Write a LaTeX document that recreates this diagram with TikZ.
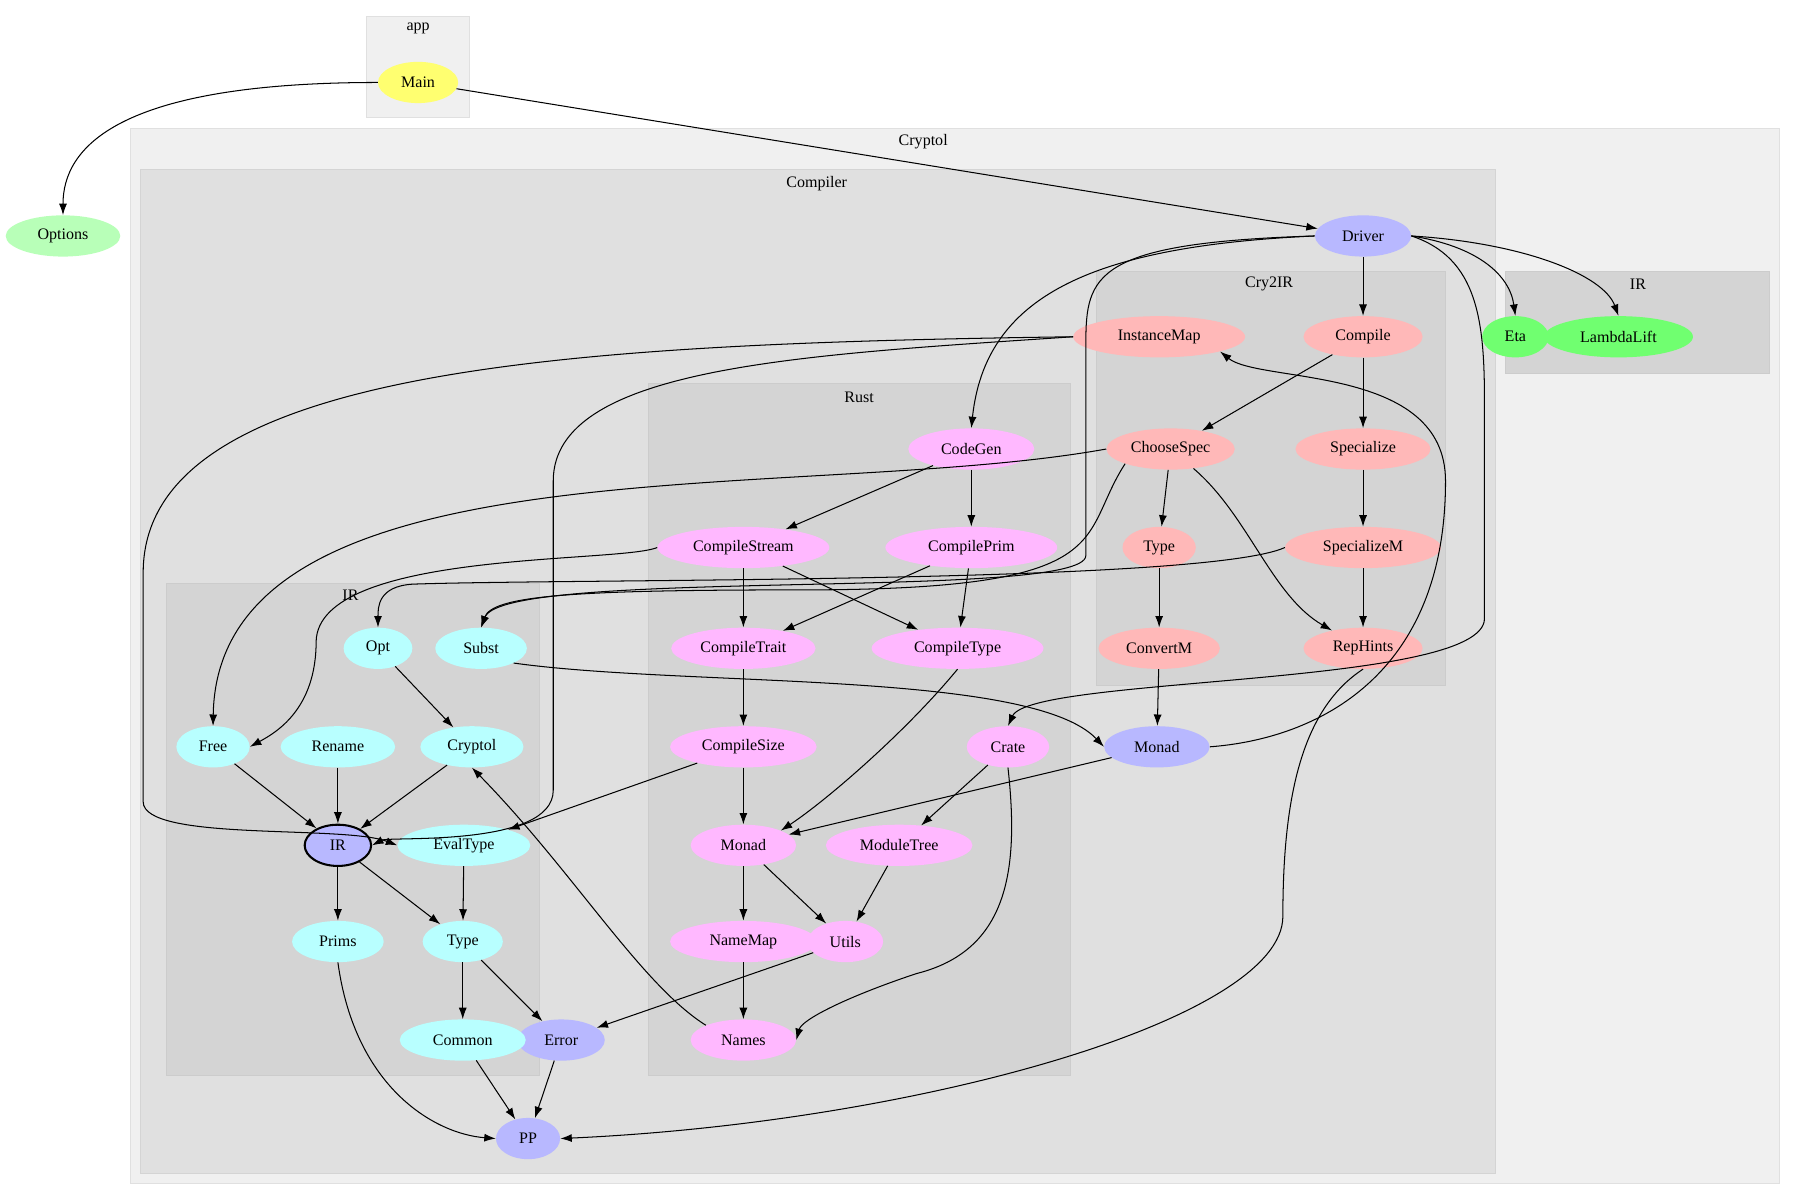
\documentclass[tikz,border=0pt]{standalone}
\usepackage{fontspec}
\setmainfont{Liberation Serif}
\usetikzlibrary{shapes.geometric,arrows.meta}
\begin{document}
\begin{tikzpicture}[x=1pt,y=-1pt,
 n/.style 2 args={ellipse,fill=#1,minimum width=#2,minimum height=36,inner sep=0pt,font=\fontsize{14}{16}\selectfont},
 e/.style={draw=black,line width=0.9pt,-{Latex[length=10pt,width=7pt]}},
 cl/.style={draw=#1!85!gray},
 lab/.style={font=\fontsize{14}{16}\selectfont}]
\useasboundingbox (0,0) rectangle (1568,1047);
\definecolor{cA}{HTML}{F0F0F0}\definecolor{cB}{HTML}{E0E0E0}\definecolor{cC}{HTML}{D4D4D4}
\definecolor{pk}{HTML}{FFB8B8}\definecolor{mg}{HTML}{FFB8FF}\definecolor{cy}{HTML}{B8FFFF}
\definecolor{lv}{HTML}{B8B8FF}\definecolor{gr}{HTML}{70FF70}\definecolor{lg}{HTML}{B8FFB8}\definecolor{ye}{HTML}{FFFF70}
% clusters
\filldraw[fill=cA,draw=cB] (320,14) rectangle (410,102);
\filldraw[fill=cA,draw=cB] (114,112) rectangle (1553,1033);
\filldraw[fill=cB,draw=cC] (122,148) rectangle (1305,1024);
\filldraw[fill=cC,draw=cC!90!gray] (957,237) rectangle (1262,598);
\filldraw[fill=cC,draw=cC!90!gray] (566,335) rectangle (934,939);
\filldraw[fill=cC,draw=cC!90!gray] (145,509) rectangle (471,939);
\filldraw[fill=cC,draw=cC!90!gray] (1314,237) rectangle (1545,326);
\node[lab] (l1) at (365,25) {app};
\node[lab] (l2) at (806,124) {Cryptol};
\node[lab] (l3) at (713,160) {Compiler};
\node[lab] (l4) at (1108,248) {Cry2IR};
\node[lab] (l5) at (750,347) {Rust};
\node[lab] (l6) at (306,520) {IR};
\node[lab] (l7) at (1430,248) {IR};
% nodes
\node[n={ye}{70}] (Main) at (365,72) {Main};
\node[n={lg}{100}] (Options) at (55,206) {Options};
\node[n={lv}{84}] (Driver) at (1190,206) {Driver};
\node[n={gr}{58}] (Eta) at (1323,294) {Eta};
\node[n={gr}{130}] (LambdaLift) at (1413,294) {LambdaLift};
\node[n={pk}{150}] (InstanceMap) at (1012,294) {InstanceMap};
\node[n={pk}{104}] (Compile) at (1190,294) {Compile};
\node[n={pk}{112}] (ChooseSpec) at (1022,392) {ChooseSpec};
\node[n={pk}{118}] (Specialize) at (1190,392) {Specialize};
\node[n={pk}{64}] (TypeC) at (1012,478) {Type};
\node[n={pk}{136}] (SpecializeM) at (1190,478) {SpecializeM};
\node[n={pk}{106}] (ConvertM) at (1012,566) {ConvertM};
\node[n={pk}{104}] (RepHints) at (1190,566) {RepHints};
\node[n={mg}{110}] (CodeGen) at (848,392) {CodeGen};
\node[n={mg}{150}] (CompileStream) at (649,478) {CompileStream};
\node[n={mg}{150}] (CompilePrim) at (848,478) {CompilePrim};
\node[n={mg}{126}] (CompileTrait) at (649,566) {CompileTrait};
\node[n={mg}{150}] (CompileType) at (836,566) {CompileType};
\node[n={mg}{128}] (CompileSize) at (649,652) {CompileSize};
\node[n={mg}{72}] (Crate) at (880,652) {Crate};
\node[n={mg}{92}] (MonadR) at (649,738) {Monad};
\node[n={mg}{128}] (ModuleTree) at (785,738) {ModuleTree};
\node[n={mg}{128}] (NameMap) at (649,822) {NameMap};
\node[n={mg}{66}] (Utils) at (738,822) {Utils};
\node[n={mg}{92}] (Names) at (649,908) {Names};
\node[n={lv}{92}] (MonadC) at (1010,652) {Monad};
\node[n={lv}{76}] (Error) at (490,908) {Error};
\node[n={lv}{56}] (PP) at (461,994) {PP};
\node[n={cy}{60}] (Opt) at (330,566) {Opt};
\node[n={cy}{80}] (Subst) at (420,566) {Subst};
\node[n={cy}{64}] (Free) at (186,652) {Free};
\node[n={cy}{100}] (Rename) at (295,652) {Rename};
\node[n={cy}{90}] (Cryptol) at (412,652) {Cryptol};
\node[n={lv}{58},draw=black,line width=1.8pt] (IR) at (295,738) {IR};
\node[n={cy}{116}] (EvalType) at (405,738) {EvalType};
\node[n={cy}{80}] (Prims) at (295,822) {Prims};
\node[n={cy}{70}] (Type) at (404,822) {Type};
\node[n={cy}{110}] (Common) at (404,908) {Common};
% edges
\draw[e] (Main.west) .. controls (100,72) and (55,130) .. (Options.north);
\draw[e] (Main) -- (Driver);
\draw[e] (Driver) -- (Compile);
\draw[e] (Driver.east) .. controls (1290,215) and (1318,240) .. (Eta.north);
\draw[e] (Driver.east) .. controls (1330,212) and (1400,240) .. (LambdaLift.north);
\draw[e] (Driver.west) .. controls (950,215) and (860,260) .. (CodeGen.north);
\draw[e] (Driver.west) .. controls (955,212) and (948,240) .. (948,300) -- (948,485) .. controls (948,525) and (440,495) .. (Subst.north);
\draw[e] (Driver.east) .. controls (1290,225) and (1296,280) .. (1296,350) -- (1296,540) .. controls (1296,600) and (900,590) .. (Crate.north);
\draw[e] (MonadC.east) .. controls (1150,645) and (1262,590) .. (1262,420) .. controls (1262,318) and (1100,335) .. (InstanceMap.south east);
\draw[e] (InstanceMap.west) .. controls (500,300) and (125,320) .. (125,500) -- (125,700) .. controls (125,735) and (300,720) .. (EvalType.west);
\draw[e] (InstanceMap.west) .. controls (700,310) and (483,320) .. (483,420) -- (483,690) .. controls (483,740) and (340,730) .. (IR.east);
\draw[e] (Compile) -- (ChooseSpec);
\draw[e] (Compile) -- (Specialize);
\draw[e] (Specialize) -- (SpecializeM);
\draw[e] (ChooseSpec) -- (TypeC);
\draw[e] (ChooseSpec) .. controls (1090,450) and (1110,520) .. (RepHints);
\draw[e] (ChooseSpec.west) .. controls (700,440) and (190,380) .. (Free.north);
\draw[e] (ChooseSpec.south west) .. controls (940,470) and (980,515) .. (700,515) .. controls (500,515) and (430,520) .. (Subst.north);
\draw[e] (SpecializeM.west) .. controls (1050,510) and (500,505) .. (360,510) .. controls (330,512) and (330,530) .. (Opt.north);
\draw[e] (TypeC) -- (ConvertM);
\draw[e] (SpecializeM) -- (RepHints);
\draw[e] (ConvertM) -- (MonadC);
\draw[e] (RepHints.south) .. controls (1135,620) and (1120,700) .. (1120,800) .. controls (1120,890) and (800,980) .. (PP.east);
\draw[e] (CodeGen) -- (CompileStream);
\draw[e] (CodeGen) -- (CompilePrim);
\draw[e] (CompileStream) -- (CompileTrait);
\draw[e] (CompileStream) -- (CompileType);
\draw[e] (CompileStream.west) .. controls (540,492) and (278,480) .. (276,560) .. controls (276,620) and (240,640) .. (Free.east);
\draw[e] (CompilePrim) -- (CompileTrait);
\draw[e] (CompilePrim) -- (CompileType);
\draw[e] (CompileTrait) -- (CompileSize);
\draw[e] (CompileType.south) .. controls (790,640) and (720,700) .. (MonadR.north east);
\draw[e] (CompileSize) -- (MonadR);
\draw[e] (CompileSize) -- (EvalType);
\draw[e] (Crate) -- (ModuleTree);
\draw[e] (Crate.south) .. controls (890,760) and (880,830) .. (800,850) .. controls (740,870) and (700,890) .. (Names.east);
\draw[e] (MonadR) -- (NameMap);
\draw[e] (MonadR) -- (Utils);
\draw[e] (ModuleTree) -- (Utils);
\draw[e] (NameMap) -- (Names);
\draw[e] (Utils) -- (Error);
\draw[e] (Names.north west) .. controls (560,860) and (500,760) .. (Cryptol.south);
\draw[e] (Subst.south east) .. controls (600,600) and (900,585) .. (MonadC.west);
\draw[e] (MonadC) -- (MonadR);
\draw[e] (Opt) -- (Cryptol);
\draw[e] (Free) -- (IR);
\draw[e] (Rename) -- (IR);
\draw[e] (Cryptol) -- (IR);
\draw[e] (IR) -- (Prims);
\draw[e] (IR) -- (Type);
\draw[e] (EvalType) -- (Type);
\draw[e] (Type) -- (Common);
\draw[e] (Type) -- (Error);
\draw[e] (Prims.south) .. controls (310,950) and (380,990) .. (PP.west);
\draw[e] (Common) -- (PP);
\draw[e] (Error) -- (PP);
\end{tikzpicture}
\end{document}
